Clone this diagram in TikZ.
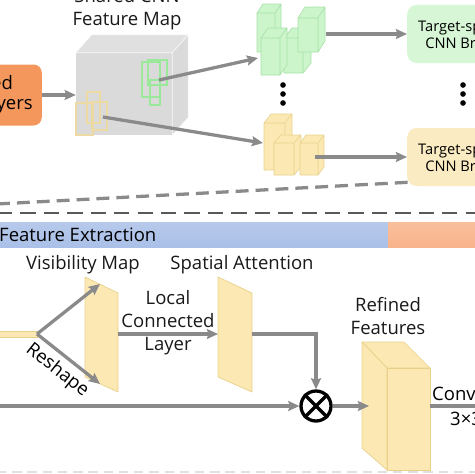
\documentclass[tikz,border=0pt]{standalone}
\usepackage{fontspec}
\setmainfont{Open Sans}
\usetikzlibrary{arrows.meta,positioning,calc}

\definecolor{arrowgray}{HTML}{8A8A8A}
\definecolor{gfill}{HTML}{CCF5CC}
\definecolor{gline}{HTML}{A6E0A6}
\definecolor{gbox}{HTML}{D6F6D6}
\definecolor{gsel}{HTML}{9AE89A}
\definecolor{yfill}{HTML}{FBE8B2}
\definecolor{yline}{HTML}{E9D18C}
\definecolor{ybox}{HTML}{FBEBC2}
\definecolor{orangebox}{HTML}{F4975D}
\definecolor{cubegray}{HTML}{DADADA}
\definecolor{bluebar}{HTML}{AAC0E8}
\definecolor{orangebar}{HTML}{F8B48B}

% cuboid: fill, line, x1, y1, x2, y2, depth offset
\newcommand{\drawcuboid}[7]{%
  \filldraw[fill=#1, draw=#2, line width=0.5pt, line join=round]
    (#3,#4) rectangle (#5,#6)
    (#3,#4) -- ++#7 -- ($(#5,#4)+#7$) -- (#5,#4) -- cycle
    (#5,#4) -- ++#7 -- ($(#5,#6)+#7$) -- (#5,#6) -- cycle;}

\begin{document}
\begin{tikzpicture}[
    x=0.03cm, y=-0.03cm,
    font=\fontsize{15.8}{19.5}\selectfont,
    arrow/.style={-{Stealth[length=9.5pt,width=8.5pt,inset=1.5pt]}, draw=arrowgray, line width=2.8pt},
    plain/.style={draw=arrowgray, line width=2.8pt},
    shared/.style={rectangle, rounded corners=7pt, fill=orangebox, align=center,
                   minimum height=1.83cm, inner xsep=0.27cm, font=\fontsize{15.8}{17}\selectfont},
    branch/.style={rectangle, rounded corners=8pt, anchor=west, align=center,
                   minimum height=1.74cm, inner xsep=0.33cm, font=\fontsize{12.5}{14.5}\selectfont},
    cube/.style={rectangle, fill=cubegray, minimum width=2.88cm, minimum height=2.46cm, inner sep=0pt},
    slab/.style={fill=yfill, draw=yline, line width=0.6pt, line join=round},
    region/.style={draw=gsel, line width=0.9pt},
    yregion/.style={draw=yline!80, line width=0.9pt},
    lbl/.style={align=center, text=black!90},
    zoomline/.style={draw=arrowgray, line width=2.8pt, dash pattern=on 11pt off 6pt},
    divider/.style={draw=black!65, line width=1.6pt, dash pattern=on 13pt off 7pt},
    faint/.style={draw=black!12, line width=1.5pt, dash pattern=on 8pt off 5pt}
]
\useasboundingbox (0,0) rectangle (474,474);

%% ── Shared feature map ───────────────────────────────────────────
\node[lbl] (maptitle) at (127,9) {Shared CNN\\Feature Map};
\node[shared, anchor=east] (layers) at (42,95) {Shared\\CNN Layers};

\node[cube] (fmap) at (124,94) {};
\filldraw[fill=cubegray!85!white, draw=white!80!cubegray, line width=0.5pt]
    (fmap.north west) -- ++(16,-18) -- ($(fmap.north east)+(16,-18)$) -- (fmap.north east) -- cycle;
\filldraw[fill=cubegray, draw=white!80!cubegray, line width=0.5pt]
    (fmap.north east) -- ++(16,-18) -- ($(fmap.south east)+(16,-18)$) -- (fmap.south east) -- cycle;

% selected regions on the map
\draw[region] (142,62) rectangle (160,97) (148,60) rectangle (167,85) (150,80) rectangle (160,105);
\draw[yregion] (87,92) rectangle (100,123) (76,103) rectangle (93,135) (92,102) rectangle (107,130);
\coordinate (gsel) at (159,80);
\coordinate (ysel) at (103,117);

\draw[arrow] (layers.east) -- (layers.east -| fmap.west);

%% ── Target-specific features ─────────────────────────────────────
\drawcuboid{gfill}{gline}{257}{13}{275}{52}{(6,-9)}
\drawcuboid{gfill}{gline}{284}{38}{303}{73}{(8,-10)}
\drawcuboid{gfill}{gline}{261}{38}{280}{75}{(7,-10)}
\drawcuboid{gfill}{gline}{298}{18}{318}{52}{(7,-11)}

\drawcuboid{yfill}{yline}{264}{123}{285}{170}{(7,-9)}
\drawcuboid{yfill}{yline}{274}{143}{294}{175}{(7,-8)}
\drawcuboid{yfill}{yline}{300}{143}{318}{175}{(6,-8)}

\coordinate (gin) at (258,58);
\coordinate (yin) at (263,143);
\coordinate (gout) at (326,34);
\coordinate (yout) at (315,157);

\node[branch, fill=gbox] (gbranch) at (407,34) {Target-specific\\CNN Branch};
\node[branch, fill=ybox] (ybranch) at (407,157) {Target-specific\\CNN Branch};

\draw[arrow] (gsel) -- (gin);
\draw[arrow] (ysel) -- (yin);
\draw[arrow] (gout) -- (gbranch.west);
\draw[arrow] (yout) -- (ybranch.west);

\foreach \y in {85,94,103} {
    \fill (283,\y) circle[radius=2.4pt];
    \fill (463,\y) circle[radius=2.4pt];
}

%% ── Separators ───────────────────────────────────────────────────
\coordinate (cutL) at (-3,204);
\draw[zoomline] (cutL) -- ($(ybranch.south west)+(2,-4)$);
\draw[divider] (-3,213) -- (480,213);

\shade[top color=bluebar!85!white, bottom color=bluebar] (-10,222) rectangle (388,247);
\shade[top color=orangebar!85!white, bottom color=orangebar] (388,222) rectangle (480,247);
\node[anchor=west, inner sep=0pt] (extract) at (-1,234.5) {Feature Extraction};

%% ── Visibility-guided attention ──────────────────────────────────
\node[lbl] (vislbl) at (83,265) {Visibility Map};
\node[lbl] (attlbl) at (242,265) {Spatial Attention};

\node[rectangle, fill=yfill, draw=yline, minimum width=1.5cm, minimum height=0.18cm,
      inner sep=0pt, anchor=east] (vec) at (37,334) {};

\filldraw[slab] (85,277) -- (118,293) -- (118,392) -- (85,377) -- cycle;
\coordinate (vistop) at (100,284);
\coordinate (visbot) at (100,384);
\coordinate (vise) at (118,334);

\draw[arrow] (vec.east) -- (vistop);
\draw[arrow] (vec.east) -- node[sloped, below, inner sep=4.5pt, pos=0.48] {Reshape} (visbot);

\filldraw[slab] (218,277) -- (252,293) -- (252,392) -- (218,377) -- cycle;
\coordinate (attw) at (218,334);
\coordinate (atte) at (252,334);

\draw[arrow] (vise) -- (attw);
\node[lbl] (lcl) at (168,323) {Local\\Connected\\Layer};

\node[circle, draw=black, line width=2.8pt, minimum size=0.9cm, inner sep=0pt] (mult) at (316,406) {};
\draw[line width=2.8pt] (mult.north west) -- (mult.south east) (mult.north east) -- (mult.south west);

\draw[arrow] (atte) -| (mult.north);
\coordinate (skipin) at (-5,406);
\draw[arrow] (skipin) -- (mult.west);

% refined features
\filldraw[slab] (362,342) -- (404,342) -- (430,368) -- (387,368) -- cycle;
\filldraw[slab] (362,342) -- (387,368) -- (387,470) -- (362,448) -- cycle;
\filldraw[slab] (387,368) rectangle (430,470);
\coordinate (refw) at (369,406);
\coordinate (refe) at (430,406);
\node[lbl] (reflbl) at (388,316) {Refined\\Features};

\draw[arrow] (mult.east) -- (refw);

\coordinate (convout) at (480,406);
\draw[plain] (refe) -- (convout);
\node[anchor=base west, inner sep=0pt] (convlbl) at (432,400) {Conv};
\node[anchor=base west, inner sep=0pt] (kernel) at (450,425) {3×3};

\draw[faint] (-3,472) -- (480,472);

\end{tikzpicture}
\end{document}
